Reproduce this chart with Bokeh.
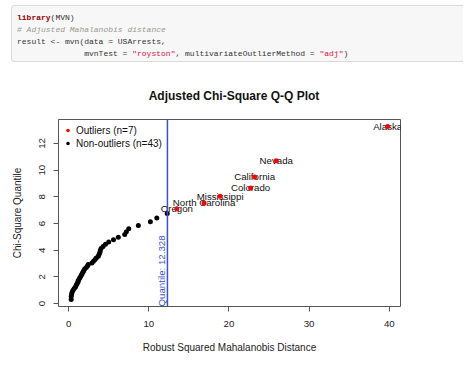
import math
from bokeh.plotting import figure
from bokeh.models import Range1d, FixedTicker, Legend, LegendItem, Span, Div
from bokeh.layouts import column
from bokeh.embed import file_html
from bokeh.resources import INLINE
from bokeh.core.properties import value

# ---- data ----
inlier_dist = [0.32, 0.33, 0.38, 0.45, 0.55, 0.70, 0.85, 0.95, 1.05, 1.15,
               1.20, 1.30, 1.40, 1.50, 1.60, 1.70, 1.80, 1.90, 2.00, 2.20,
               2.35, 2.45, 2.90, 3.10, 3.30, 3.45, 3.70, 3.80, 3.90, 3.95,
               4.05, 4.30, 4.60, 5.00, 5.60, 6.20, 7.00, 7.20, 7.50, 8.70,
               10.20, 11.00, 12.30]
inlier_quant = [0.298, 0.535, 0.711, 0.862, 0.999, 1.127, 1.249, 1.366, 1.481, 1.593,
                1.704, 1.814, 1.923, 2.031, 2.140, 2.249, 2.359, 2.470, 2.582, 2.696,
                2.811, 2.928, 3.047, 3.169, 3.293, 3.421, 3.552, 3.687, 3.826, 3.971,
                4.120, 4.275, 4.438, 4.607, 4.786, 4.974, 5.173, 5.385, 5.613, 5.858,
                6.125, 6.419, 6.745]
outlier_names = ["Oregon", "North Carolina", "Mississippi", "Colorado",
                 "California", "Nevada", "Alaska"]
outlier_dist = [13.5, 16.9, 18.9, 22.7, 23.2, 25.9, 39.8]
outlier_quant = [7.114, 7.539, 8.043, 8.665, 9.488, 10.712, 13.277]
quantile_cut = 12.328
x_ticks = [0, 10, 20, 30, 40]
y_ticks = [0, 2, 4, 6, 8, 10, 12]
title_text = "Adjusted Chi-Square Q-Q Plot"

FONT = "Liberation Sans"
BLUE = "#3d4fd6"
X_LO, X_HI = -1.26, 41.4
Y_LO, Y_HI = -0.222, 13.796

code_html = (
    '<div style="position:relative;width:458px;height:100px;">'
    '<div style="position:absolute;left:6px;top:0px;width:452px;height:57px;'
    'box-sizing:border-box;background:#f7f7f7;border:1px solid #dadada;'
    'border-right:none;border-radius:4px 0 0 4px;padding:6px 0 0 5px;'
    "font-family:'Liberation Mono',monospace;font-size:8px;line-height:12px;"
    'white-space:pre;color:#333333;">'
    '<span style="color:#990000;font-weight:bold">library</span>(MVN)\n'
    '<span style="color:#9a9a90;font-style:italic"># Adjusted Mahalanobis distance</span>\n'
    'result &lt;- mvn(data = USArrests,\n'
    '              mvnTest = <span style="color:#dd1144">"royston"</span>, '
    'multivariateOutlierMethod = <span style="color:#dd1144">"adj"</span>)'
    '</div>'
    '<div style="position:absolute;left:0px;top:84px;width:458px;text-align:center;'
    "font-family:'Liberation Sans',sans-serif;font-size:12px;font-weight:bold;"
    'line-height:14px;color:#111111;">' + title_text + '</div>'
    '</div>'
)
div = Div(text=code_html, width=458, height=100)

p = figure(width=458, height=250,
           x_range=Range1d(X_LO, X_HI), y_range=Range1d(Y_LO, Y_HI),
           output_backend="svg", toolbar_location=None,
           min_border_left=58, min_border_right=58,
           min_border_top=9, min_border_bottom=54)

p.grid.visible = False
p.outline_line_color = "#555555"
p.outline_line_width = 1
p.background_fill_color = "white"
p.border_fill_color = "white"

p.xaxis.ticker = FixedTicker(ticks=x_ticks)
p.yaxis.ticker = FixedTicker(ticks=y_ticks)
p.yaxis.major_label_orientation = "vertical"
p.xaxis.axis_label = "Robust Squared Mahalanobis Distance"
p.yaxis.axis_label = "Chi-Square Quantile"
for ax in (p.xaxis, p.yaxis):
    ax.axis_line_color = None
    ax.major_tick_line_color = "#555555"
    ax.major_tick_out = 5
    ax.major_tick_in = 0
    ax.minor_tick_line_color = None
    ax.major_label_text_font = FONT
    ax.major_label_text_font_size = "9.7px"
    ax.major_label_text_color = "#222222"
    ax.axis_label_text_font = FONT
    ax.axis_label_text_font_size = "10px"
    ax.axis_label_text_font_style = "normal"
    ax.axis_label_text_color = "#222222"
p.xaxis.major_label_standoff = 9
p.xaxis.axis_label_standoff = 12
p.yaxis.major_label_standoff = 8
p.yaxis.axis_label_standoff = 14

# cut-off line and its label
p.add_layout(Span(location=quantile_cut, dimension="height",
                  line_color=BLUE, line_width=1.5))
p.text(x=[quantile_cut], y=[Y_LO], text=[f"Quantile: {quantile_cut}"],
       angle=math.pi / 2, text_align="left", text_baseline="bottom",
       text_color=BLUE, text_font=value(FONT), text_font_size="9.7px")

# outlier names (drawn before the points, as in the reference)
p.text(x=outlier_dist, y=outlier_quant, text=outlier_names,
       text_align="center", text_baseline="middle",
       text_color="#111111", text_font=value(FONT), text_font_size="9.7px")

r_in = p.scatter(inlier_dist, inlier_quant, size=5, color="black", line_color=None)
r_out = p.scatter(outlier_dist, outlier_quant, size=5, color="red", line_color=None)

legend = Legend(items=[
    LegendItem(label=f"Outliers (n={len(outlier_dist)})", renderers=[r_out]),
    LegendItem(label=f"Non-outliers (n={len(inlier_dist)})", renderers=[r_in]),
], location="top_left", margin=5, padding=0, spacing=1,
    glyph_width=9, glyph_height=12, label_height=12, label_standoff=4,
    border_line_color=None, background_fill_alpha=0,
    label_text_font=FONT, label_text_font_size="10px", label_text_color="#111111")
p.add_layout(legend)

layout = column(div, p)
open("out.html", "w").write(file_html(layout, INLINE))
